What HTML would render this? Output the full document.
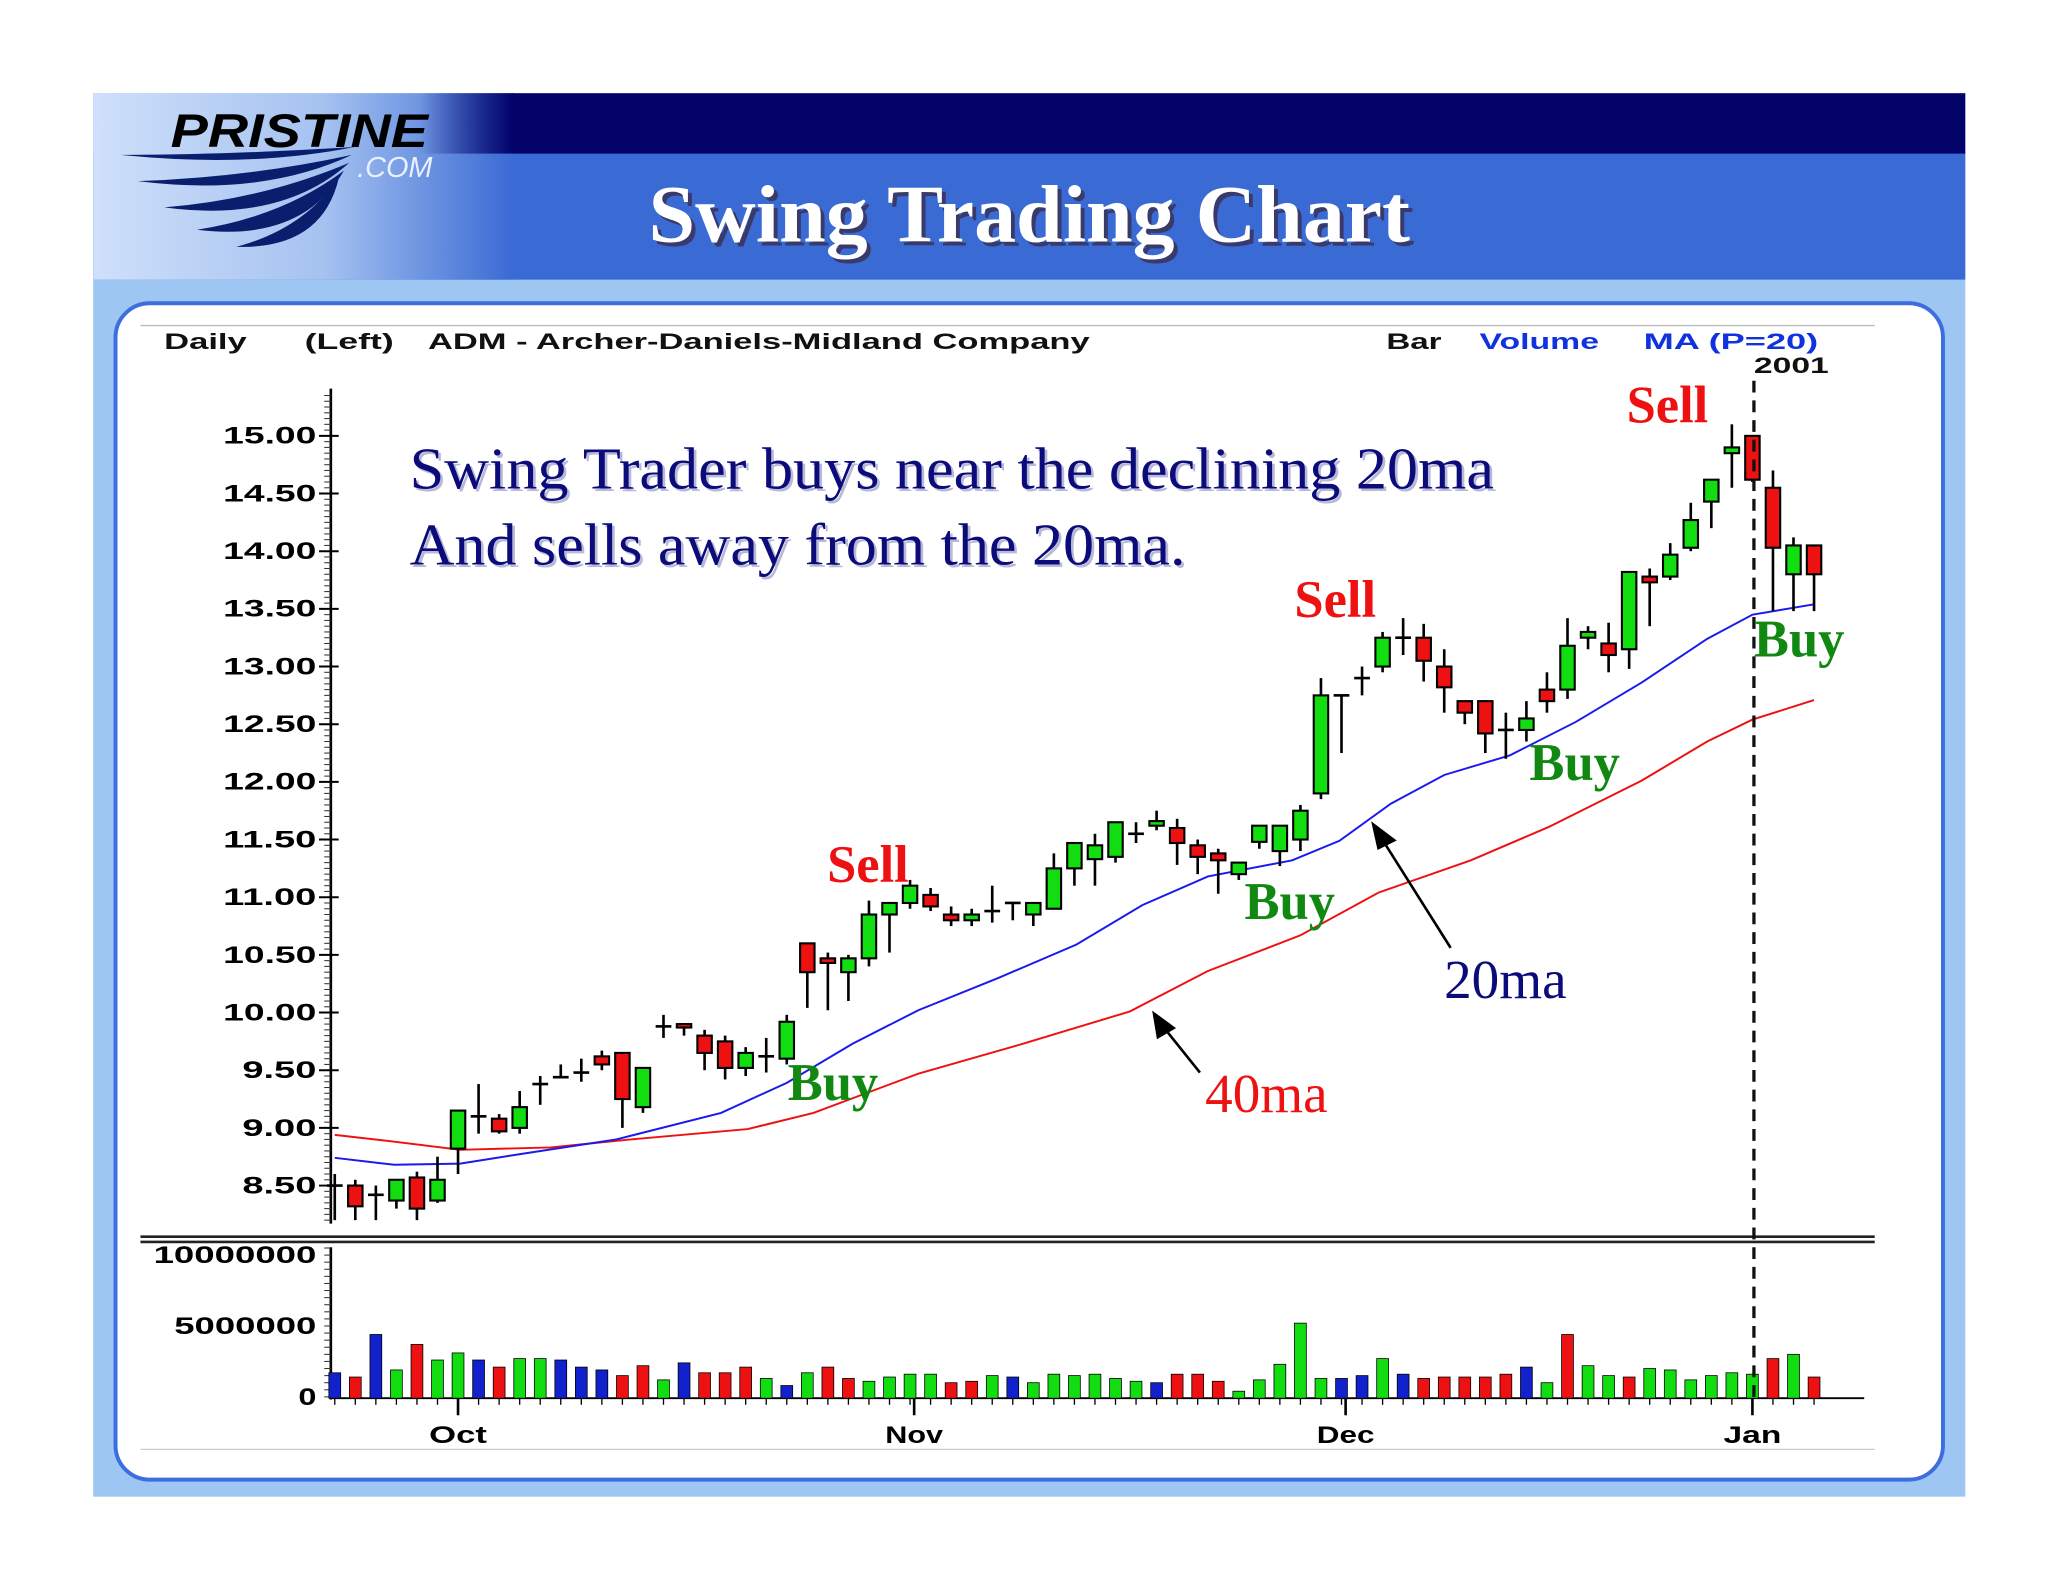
<!DOCTYPE html>
<html><head><meta charset="utf-8"><title>Swing Trading Chart</title>
<style>html,body{margin:0;padding:0;background:#fff;}svg{display:block;}</style></head>
<body>
<svg id="chart" xmlns="http://www.w3.org/2000/svg" width="2048" height="1582" viewBox="0 0 1560 1205" preserveAspectRatio="none">
<defs>
<linearGradient id="logoGrad" x1="0" y1="0" x2="1" y2="0">
<stop offset="0" stop-color="#cfe0fa"/><stop offset="0.55" stop-color="#a5c2f0"/><stop offset="1" stop-color="#3a6ad4"/>
</linearGradient>
<linearGradient id="navyGrad" x1="0" y1="0" x2="1" y2="0">
<stop offset="0" stop-color="#03036a" stop-opacity="0"/><stop offset="1" stop-color="#03036a"/>
</linearGradient>
</defs>
<rect x="71" y="71" width="1426" height="1069" fill="#9ec6f2"/>
<rect x="71" y="116" width="1426" height="97" fill="#3a6ad4"/>
<rect x="71" y="71" width="320" height="142" fill="url(#logoGrad)"/>
<rect x="390" y="71" width="1107" height="46" fill="#03036a"/>
<rect x="320" y="71" width="71" height="46" fill="url(#navyGrad)"/>
<g fill="#0a1e6e">
<path d="M92,118 Q170,118 270,112 Q190,128 92,118Z"/>
<path d="M105,138 Q190,135 268,118 Q200,150 105,138Z"/>
<path d="M125,158 Q200,152 266,124 Q215,170 125,158Z"/>
<path d="M150,175 Q215,165 262,130 Q230,185 150,175Z"/>
<path d="M180,188 Q230,175 258,136 Q245,190 180,188Z"/>
</g>
<text x="130" y="112" font-family="Liberation Sans, sans-serif" font-weight="bold" font-style="italic" font-size="36" fill="#000" textLength="196" lengthAdjust="spacingAndGlyphs">PRISTINE</text>
<text x="272" y="135" font-family="Liberation Sans, sans-serif" font-style="italic" font-size="22" fill="#e8f0ff">.COM</text>
<text x="497" y="187" font-family="Liberation Serif, serif" font-weight="bold" font-size="62" fill="#3a3a6a" textLength="580" lengthAdjust="spacingAndGlyphs">Swing Trading Chart</text>
<text x="494" y="184" font-family="Liberation Serif, serif" font-weight="bold" font-size="62" fill="#fff" textLength="580" lengthAdjust="spacingAndGlyphs">Swing Trading Chart</text>
<rect x="88" y="231" width="1392" height="896" rx="26" ry="26" fill="#fff" stroke="#3d6ee0" stroke-width="3"/>
<line x1="107" y1="248" x2="1428" y2="248" stroke="#bbb" stroke-width="1"/>
<g font-family="Liberation Sans, sans-serif" font-weight="bold" font-size="17" lengthAdjust="spacingAndGlyphs">
<text x="125" y="266" fill="#111" textLength="63" lengthAdjust="spacingAndGlyphs">Daily</text>
<text x="232" y="266" fill="#111" textLength="68" lengthAdjust="spacingAndGlyphs">(Left)</text>
<text x="326" y="266" fill="#111" textLength="504" lengthAdjust="spacingAndGlyphs">ADM - Archer-Daniels-Midland Company</text>
<text x="1056" y="266" fill="#111" textLength="42" lengthAdjust="spacingAndGlyphs">Bar</text>
<text x="1127" y="266" fill="#1133dd" textLength="91" lengthAdjust="spacingAndGlyphs">Volume</text>
<text x="1252" y="266" fill="#1133dd" textLength="133" lengthAdjust="spacingAndGlyphs">MA (P=20)</text>
<text x="1336" y="284" fill="#111" textLength="57" lengthAdjust="spacingAndGlyphs">2001</text>
</g>
<g id="plot"></g>
<line x1="107" y1="942" x2="1428" y2="942" stroke="#222" stroke-width="2"/>
<line x1="107" y1="946" x2="1428" y2="946" stroke="#222" stroke-width="2"/>
<line x1="107" y1="1104" x2="1428" y2="1104" stroke="#ccc" stroke-width="1"/>
<line x1="1336" y1="290" x2="1336" y2="1066" stroke="#111" stroke-width="2.5" stroke-dasharray="9,6"/>
<g font-family="Liberation Serif, serif">
<text x="314" y="374" font-size="45" fill="#b8b8d8" textLength="826" lengthAdjust="spacingAndGlyphs">Swing Trader buys near the declining 20ma</text>
<text x="312" y="372" font-size="45" fill="#0b0b7a" textLength="826" lengthAdjust="spacingAndGlyphs">Swing Trader buys near the declining 20ma</text>
<text x="314" y="432" font-size="45" fill="#b8b8d8" textLength="591" lengthAdjust="spacingAndGlyphs">And sells away from the 20ma.</text>
<text x="312" y="430" font-size="45" fill="#0b0b7a" textLength="591" lengthAdjust="spacingAndGlyphs">And sells away from the 20ma.</text>
<g font-weight="bold" font-size="40">
<text x="630" y="672" fill="#ee1111">Sell</text>
<text x="986" y="470" fill="#ee1111">Sell</text>
<text x="1239" y="322" fill="#ee1111">Sell</text>
<text x="600" y="838" fill="#118811">Buy</text>
<text x="948" y="700" fill="#118811">Buy</text>
<text x="1165" y="594" fill="#118811">Buy</text>
<text x="1336" y="500" fill="#118811">Buy</text>
</g>
<text x="1100" y="760" font-size="42" fill="#0b0b7a">20ma</text>
<text x="918" y="847" font-size="42" fill="#ee1111">40ma</text>
</g>
<g stroke="#000" stroke-width="2">
<line x1="1105" y1="722" x2="1052" y2="638"/>
<polygon points="1046,628 1062,640 1050,646" fill="#000"/>
</g>
<g stroke="#000" stroke-width="2">
<line x1="914" y1="817" x2="886" y2="782"/>
<polygon points="879,772 894,783 882,790" fill="#000"/>
</g>
</svg>
<script>
const opens  = [8.48,8.50,8.42,8.37,8.57,8.37,8.82,9.10,9.08,9.00,9.38,9.44,9.48,9.62,9.65,9.18,9.88,9.90,9.80,9.75,9.52,9.62,9.60,10.60,10.47,10.35,10.47,10.85,10.95,11.02,10.85,10.80,10.88,10.93,10.85,10.90,11.25,11.33,11.35,11.55,11.62,11.60,11.45,11.38,11.20,11.48,11.40,11.50,11.90,12.75,12.90,13.00,13.25,13.25,13.00,12.70,12.70,12.45,12.45,12.80,12.80,13.25,13.20,13.15,13.78,13.78,14.03,14.43,14.85,15.00,14.55,13.80,14.05];
const highs  = [8.60,8.55,8.50,8.55,8.62,8.75,9.15,9.38,9.12,9.32,9.45,9.55,9.60,9.67,9.65,9.52,9.98,9.90,9.85,9.80,9.70,9.78,9.98,10.60,10.52,10.50,10.97,10.95,11.15,11.08,10.92,10.90,11.10,10.95,10.95,11.38,11.47,11.55,11.65,11.65,11.75,11.68,11.50,11.42,11.30,11.62,11.62,11.80,12.90,12.75,13.00,13.30,13.42,13.37,13.15,12.70,12.70,12.60,12.70,12.95,13.42,13.35,13.38,13.82,13.85,14.07,14.42,14.62,15.10,15.00,14.70,14.12,14.05];
const lows   = [8.20,8.20,8.20,8.30,8.20,8.35,8.60,8.95,8.95,8.95,9.20,9.44,9.40,9.50,9.00,9.13,9.78,9.80,9.50,9.42,9.45,9.48,9.55,10.04,10.02,10.10,10.40,10.52,10.90,10.88,10.75,10.75,10.78,10.80,10.75,10.90,11.10,11.10,11.30,11.47,11.58,11.28,11.20,11.03,11.15,11.42,11.27,11.40,11.85,12.25,12.75,12.95,13.10,12.87,12.60,12.50,12.25,12.20,12.35,12.60,12.72,13.15,12.95,12.98,13.35,13.75,14.00,14.20,14.55,14.60,13.48,13.48,13.48];
const closes = [8.50,8.32,8.42,8.55,8.30,8.55,9.15,9.10,8.97,9.18,9.38,9.44,9.48,9.55,9.25,9.52,9.88,9.87,9.65,9.52,9.65,9.62,9.92,10.35,10.43,10.47,10.85,10.95,11.10,10.92,10.80,10.85,10.88,10.95,10.95,11.25,11.47,11.45,11.65,11.55,11.66,11.47,11.35,11.32,11.30,11.62,11.62,11.75,12.75,12.75,12.90,13.25,13.25,13.05,12.82,12.60,12.42,12.45,12.55,12.70,13.18,13.30,13.10,13.82,13.73,13.97,14.27,14.62,14.90,14.62,14.03,14.05,13.80];
const volumes = [1.7,1.4,4.4,1.9,3.7,2.6,3.1,2.6,2.1,2.7,2.7,2.6,2.1,1.9,1.5,2.2,1.2,2.4,1.7,1.7,2.1,1.3,0.8,1.7,2.1,1.3,1.1,1.4,1.6,1.6,1.0,1.1,1.5,1.4,1.0,1.6,1.5,1.6,1.3,1.1,1.0,1.6,1.6,1.1,0.4,1.2,2.3,5.2,1.3,1.3,1.5,2.7,1.6,1.3,1.4,1.4,1.4,1.6,2.1,1.0,4.4,2.2,1.5,1.4,2.0,1.9,1.2,1.5,1.7,1.6,2.7,3.0,1.4];
const volColors = ["b","r","b","g","r","g","g","b","r","g","g","b","b","b","r","r","g","b","r","r","r","g","b","g","r","r","g","g","g","g","r","r","g","b","g","g","g","g","g","g","b","r","r","r","g","g","g","g","g","b","b","g","b","r","r","r","r","r","b","g","r","g","g","r","g","g","g","g","g","g","r","g","r"];
const ma20Idx = [0,2.9,6.1,9.3,13.7,18.8,22.0,25.2,28.4,32.3,36.1,39.3,42.5,46.6,48.9,51.4,54.0,57.2,60.4,63.6,66.8,69.0,72.0];
const ma20Val = [8.74,8.68,8.69,8.78,8.90,9.13,9.39,9.73,10.02,10.30,10.59,10.93,11.18,11.32,11.49,11.81,12.06,12.23,12.52,12.86,13.24,13.45,13.54];
const ma40Idx = [0,2.9,6.1,10.5,14.4,20.1,23.3,28.4,33.5,38.7,42.5,47.0,50.8,55.3,59.1,63.6,66.8,69.0,72.0];
const ma40Val = [8.94,8.88,8.81,8.83,8.90,8.99,9.13,9.47,9.73,10.01,10.36,10.67,11.04,11.32,11.61,12.01,12.35,12.54,12.71];
const priceTicks = ["15.00","14.50","14.00","13.50","13.00","12.50","12.00","11.50","11.00","10.50","10.00","9.50","9.00","8.50"];
const volTicks = ["10000000","5000000","0"];
const months = ["Oct","Nov","Dec","Jan"];
const monthIdx = [6,28.2,49.2,69];

const NS="http://www.w3.org/2000/svg";
const plot=document.getElementById('plot');
const X=i=>255+i*15.65;
const Y=p=>332+(15-p)*87.85;
const VY=v=>1064-v*10.8;
function mk(tag,attrs,parent){const e=document.createElementNS(NS,tag);for(const k in attrs)e.setAttribute(k,attrs[k]);(parent||plot).appendChild(e);return e;}

let ax=mk('line',{x1:252,y1:296,x2:252,y2:932,stroke:'#000','stroke-width':2});


for(let p=8.2;p<=15.4;p+=0.05){let t=mk('line',{x1:247,y1:Y(p),x2:252,y2:Y(p),stroke:'#333','stroke-width':0.8});

}
priceTicks.forEach(s=>{const p=parseFloat(s);
let t=mk('line',{x1:243,y1:Y(p),x2:258,y2:Y(p),stroke:'#000','stroke-width':1.5});


let l=mk('text',{x:243-s.length*14.6,y:Y(p)+6,textLength:s.length*14.6-2,lengthAdjust:'spacingAndGlyphs','font-family':'Liberation Sans, sans-serif','font-weight':'bold','font-size':18,fill:'#000'});
l.textContent=s;

});
let vax=mk('line',{x1:252,y1:950,x2:252,y2:1066,stroke:'#000','stroke-width':2});


for(let v=0;v<=10.5;v+=0.5){let t=mk('line',{x1:247,y1:VY(v),x2:252,y2:VY(v),stroke:'#333','stroke-width':0.8});

}
volTicks.forEach(s=>{const v=parseFloat(s)/1e6;
let l=mk('text',{x:243-s.length*15.75,y:VY(v)+6,textLength:s.length*15.75-2,lengthAdjust:'spacingAndGlyphs','font-family':'Liberation Sans, sans-serif','font-weight':'bold','font-size':18,fill:'#000'});
l.textContent=s;

});
let base=mk('line',{x1:252,y1:1065,x2:1420,y2:1065,stroke:'#000','stroke-width':1.5});


for(let i=0;i<closes.length;i++){let t=mk('line',{x1:X(i),y1:1065,x2:X(i),y2:1070,stroke:'#000','stroke-width':1});

}
months.forEach((m,k)=>{let t=mk('line',{x1:X(monthIdx[k]),y1:1065,x2:X(monthIdx[k]),y2:1078,stroke:'#000','stroke-width':2});


let l=mk('text',{x:X(monthIdx[k])-22,y:1099,textLength:44,lengthAdjust:'spacingAndGlyphs','font-family':'Liberation Sans, sans-serif','font-weight':'bold','font-size':18,fill:'#000'});
l.textContent=m;

});

function line(idx,val,color,name){let d=idx.map((i,k)=>(k?'L':'M')+X(i).toFixed(1)+','+Y(val[k]).toFixed(1)).join(' ');
let p=mk('path',{d:d,fill:'none',stroke:color,'stroke-width':1.5});

}
line(ma40Idx,ma40Val,'#ee1111','ma40-line');
line(ma20Idx,ma20Val,'#1a1aee','ma20-line');

const colMap={g:'#11dd11',r:'#ee1111',b:'#1122cc'};
for(let i=0;i<closes.length;i++){
const x=X(i),o=opens[i],c=closes[i];
let w=mk('line',{x1:x,y1:Y(highs[i]),x2:x,y2:Y(lows[i]),stroke:'#000','stroke-width':2});


const top=Y(Math.max(o,c)),bot=Y(Math.min(o,c));
if(bot-top<2.5){let b=mk('line',{x1:x-6,y1:Y(c),x2:x+6,y2:Y(c),stroke:'#000','stroke-width':2});

}
else{let b=mk('rect',{x:x-5.5,y:top,width:11,height:bot-top,fill:c>=o?'#11dd11':'#ee1111',stroke:'#000','stroke-width':1.6});

}
}
for(let i=0;i<volumes.length;i++){
let r=mk('rect',{x:X(i)-4.5,y:VY(volumes[i]),width:9,height:1065-VY(volumes[i]),fill:colMap[volColors[i]],stroke:'#000','stroke-width':0.6});


}
</script>
</body></html>
